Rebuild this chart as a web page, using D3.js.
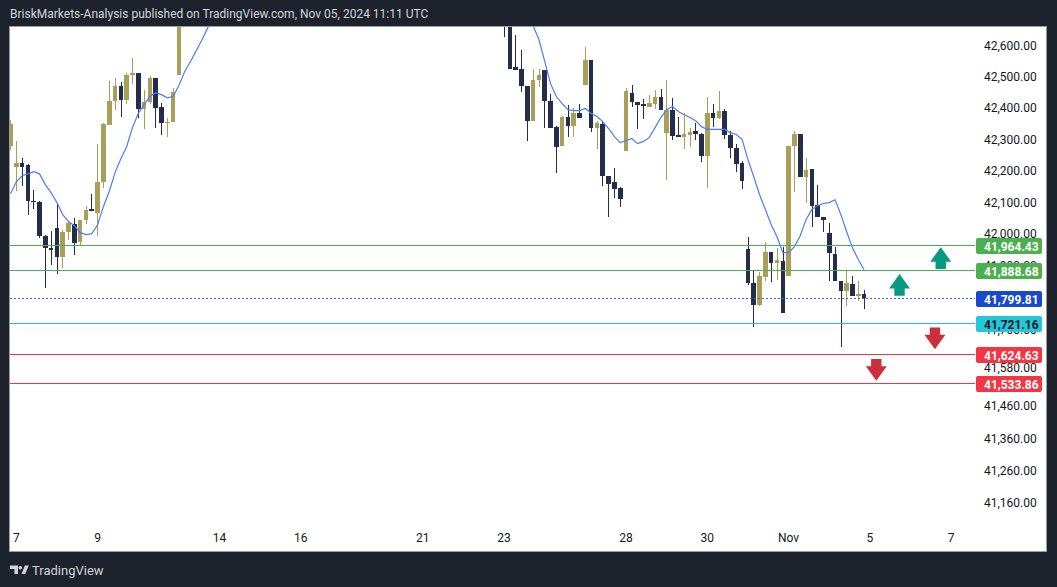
<!DOCTYPE html>
<html>
<head>
<meta charset="utf-8">
<script src="https://cdn.jsdelivr.net/npm/d3@7"></script>
<style>
body { margin: 0; background: #1e222d; }
svg { display: block; }
</style>
</head>
<body>
<script>
// US30 4h candles, last bar of Oct 4 (index 0) to last bar of Nov 4 (index 147)
// bars 30..84 trade above the visible window and are left out

// stretch A: bars 0..29
const startA = 0
const openA  = [42278,42213,42227,42218,42105,42101,41993,41957,42020,41927,42006,42033,41974,42044,42081,42067,42164,42345,42422,42472,42425,42505,42511,42396,42418,42497,42402,42355,42355,42505]
const highA  = [42361,42294,42240,42223,42141,42104,41996,42011,42097,42014,42043,42052,42046,42090,42128,42286,42351,42487,42497,42482,42513,42561,42511,42459,42502,42497,42417,42369,42465,42810]
const lowA   = [42268,42136,42153,42062,42081,41989,41832,41902,41876,41892,41983,41936,41964,42033,42072,41994,42147,42345,42393,42371,42414,42478,42367,42334,42414,42336,42314,42309,42355,42505]
const closeA = [42348,42226,42214,42104,42103,41994,41955,41949,41927,42008,42034,41971,42046,42076,42072,42166,42348,42424,42472,42425,42507,42513,42396,42421,42497,42399,42352,42356,42450,42790]

// stretch B: bars 85..147
const startB = 85
const openB  = [42760,42680,42530,42526,42472,42358,42489,42523,42424,42339,42278,42371,42342,42383,42473,42553,42336,42350,42183,42164,42145,42263,42449,42421,42412,42405,42412,42437,42321,42394,42313,42307,42313,42326,42319,42247,42386,42367,42392,42315,42274,42224,41954,41847,41776,41866,41945,41908,41916,41867,42278,42319,42180,42205,42091,42055,42005,41939,41851,41820,41843,41804,41812]
const highB  = [42790,42700,42635,42584,42472,42526,42526,42523,42446,42342,42374,42409,42400,42412,42594,42553,42358,42358,42183,42208,42148,42463,42475,42421,42428,42443,42457,42462,42491,42433,42371,42384,42336,42353,42320,42437,42414,42456,42396,42326,42286,42233,41992,41885,41882,41977,41945,41958,41961,42280,42326,42319,42242,42205,42156,42055,42036,41961,41851,41886,41867,41854,41823]
const lowB   = [42627,42526,42523,42451,42294,42358,42467,42336,42336,42193,42278,42307,42307,42369,42473,42323,42269,42152,42053,42116,42085,42263,42405,42333,42364,42405,42396,42393,42170,42298,42307,42269,42275,42300,42228,42146,42339,42365,42302,42240,42198,42142,41839,41707,41773,41853,41849,41857,41751,41867,42133,42180,42098,42023,42053,42006,41851,41851,41647,41773,41804,41791,41765]
const closeB = [42680,42526,42523,42470,42358,42491,42507,42422,42336,42275,42371,42342,42384,42369,42552,42336,42352,42183,42158,42142,42110,42454,42418,42409,42409,42415,42437,42393,42393,42310,42307,42317,42323,42318,42247,42386,42367,42392,42313,42272,42221,42167,41846,41776,41869,41945,41908,41920,41751,42280,42319,42180,42204,42088,42053,42044,41940,41851,41820,41845,41804,41812,41799.81]

// moving average (blue), visible parts only
const maStartA = 0
const maA = [42128,42166,42185,42191,42198,42191,42157,42131,42100,42062,42040,42027,42005,41999,42002,42030,42087,42135,42195,42239,42277,42338,42383,42411,42437,42449,42443,42433,42437,42472,42517,42549,42584,42619,42658,42690]
const maStartB = 88
const maB = [42716,42709,42664,42619,42549,42478,42437,42414,42395,42392,42392,42399,42383,42373,42357,42335,42309,42290,42297,42303,42287,42294,42306,42338,42370,42395,42405,42389,42379,42370,42360,42341,42332,42332,42332,42332,42322,42316,42300,42236,42182,42125,42078,42030,41992,41942,41942,41961,41995,42046,42078,42090,42097,42100,42109,42062,42008,41957,41920,41888]

const lastBar = 147
const timeLabels = ["7","9","14","16","21","23","28","30","Nov","5","7"]
const timeIdx    = [1,15,36,50,71,85,106,120,134,148,162]
const priceTicks = [42600,42500,42400,42300,42200,42100,42000,41900,41800,41700,41580,41460,41360,41260,41160]

// drawn levels
const resistLevels = [41964.43, 41888.68]
const pivotLevels  = [41721.16]
const supportLevels = [41624.63, 41533.86]
const lastPrice = 41799.81

// arrows: bar index of centre, price at the tip
const arrowIdx   = [160.2, 153.1, 159.2, 149.1]
const arrowPrice = [41958.8, 41874.6, 41638.3, 41540.2]
const arrowDir   = ["up","up","down","down"]

const W = 1057, H = 587
const plot = {left: 10, right: 975, top: 27, bottom: 552}
const UP = "#a99f58", DOWN = "#242e4a"

const svg = d3.select("body").append("svg").attr("width", W).attr("height", H)
svg.append("rect").attr("width", W).attr("height", H).attr("fill", "#1e222d")

// white chart panel
svg.append("rect")
    .attr("x", 9.5).attr("y", 26.5)
    .attr("width", 1037).attr("height", 525)
    .attr("fill", "#ffffff").attr("stroke", "#9a9da6")

svg.append("text")
    .attr("x", 10).attr("y", 18)
    .attr("font-family", "Roboto, 'Noto Sans', sans-serif")
    .attr("font-size", "12px")
    .attr("fill", "#d1d4dc")
    .text("BriskMarkets-Analysis published on TradingView.com, Nov 05, 2024 11:11 UTC")

const x = d3.scaleLinear().domain([0, lastBar]).range([10.5, 864.1])
const y = d3.scaleLog().domain([41160, 42600]).range([503, 45.5])

svg.append("clipPath").attr("id", "clip")
    .append("rect")
    .attr("x", plot.left).attr("y", plot.top)
    .attr("width", plot.right - plot.left).attr("height", plot.bottom - plot.top)

const g = svg.append("g").attr("clip-path", "url(#clip)")

// build candle table
let candles = []
openA.forEach(function(o, k) {
    candles.push({i: startA + k, o: o, h: highA[k], l: lowA[k], c: closeA[k]})
})
openB.forEach(function(o, k) {
    candles.push({i: startB + k, o: o, h: highB[k], l: lowB[k], c: closeB[k]})
})

const bars = g.selectAll("g.bar")
    .data(candles)
    .enter()
    .append("g")
    .attr("class", "bar")
    .attr("shape-rendering", "crispEdges")

bars.each(function(d) {
    const cx = x(d.i)
    const left = Math.round(cx - 2.3), right = Math.round(cx + 2.3)
    const col = d.c >= d.o ? UP : DOWN
    const wx = Math.floor((left + right) / 2)
    const sel = d3.select(this)
    sel.append("rect")
        .attr("x", wx).attr("width", 1)
        .attr("y", y(d.h)).attr("height", Math.max(1, y(d.l) - y(d.h)))
        .attr("fill", col)
    const top = y(Math.max(d.o, d.c)), bot = y(Math.min(d.o, d.c))
    sel.append("rect")
        .attr("x", left).attr("width", right - left)
        .attr("y", top).attr("height", Math.max(1.5, bot - top))
        .attr("fill", col)
})

// moving average
const maLine = d3.line()
    .x(function(d) { return x(d.i) })
    .y(function(d) { return y(d.v) })

const maSegs = [
    maA.map(function(v, k) { return {i: maStartA + k, v: v} }),
    maB.map(function(v, k) { return {i: maStartB + k, v: v} })
]
g.selectAll("path.ma")
    .data(maSegs)
    .enter()
    .append("path")
    .attr("class", "ma")
    .attr("d", maLine)
    .attr("fill", "none")
    .attr("stroke", "#4a7bff")
    .attr("stroke-width", 1.2)

// horizontal levels
const levels = []
resistLevels.forEach(function(v) { levels.push({v: v, line: "#4caf50", box: "#4caf50", txt: "#ffffff"}) })
pivotLevels.forEach(function(v) { levels.push({v: v, line: "#22c3d6", box: "#26c6da", txt: "#131722"}) })
supportLevels.forEach(function(v) { levels.push({v: v, line: "#f23645", box: "#f23645", txt: "#ffffff"}) })

svg.selectAll("line.level")
    .data(levels)
    .enter()
    .append("line")
    .attr("class", "level")
    .attr("x1", plot.left).attr("x2", plot.right)
    .attr("y1", function(d) { return Math.round(y(d.v)) + 0.5 })
    .attr("y2", function(d) { return Math.round(y(d.v)) + 0.5 })
    .attr("stroke", function(d) { return d.line })
    .attr("stroke-width", 1)

svg.append("line")
    .attr("x1", plot.left).attr("x2", plot.right)
    .attr("y1", Math.round(y(lastPrice)) + 0.5).attr("y2", Math.round(y(lastPrice)) + 0.5)
    .attr("stroke", "#2962ff").attr("stroke-dasharray", "2,2")

// arrows
const arrowPath = function(d, k) {
    const cx = x(arrowIdx[k]), ty = y(d)
    const s = arrowDir[k] === "up" ? 1 : -1
    const hw = 10.5, head = 14.5, sw = 5.2, len = 21.7
    return "M" + cx + "," + ty +
        "L" + (cx + hw) + "," + (ty + s * head) +
        "L" + (cx + sw) + "," + (ty + s * head) +
        "L" + (cx + sw) + "," + (ty + s * len) +
        "L" + (cx - sw) + "," + (ty + s * len) +
        "L" + (cx - sw) + "," + (ty + s * head) +
        "L" + (cx - hw) + "," + (ty + s * head) + "Z"
}
svg.selectAll("path.arrow")
    .data(arrowPrice)
    .enter()
    .append("path")
    .attr("class", "arrow")
    .attr("d", arrowPath)
    .attr("fill", function(d, k) { return arrowDir[k] === "up" ? "#089981" : "#cc2f3c" })

// price axis
const fmt = d3.format(",.2f")
svg.selectAll("text.ptick")
    .data(priceTicks)
    .enter()
    .append("text")
    .attr("class", "ptick")
    .attr("x", 984)
    .attr("y", function(d) { return y(d) + 4 })
    .attr("font-family", "Roboto, sans-serif")
    .attr("font-size", "12px")
    .attr("fill", "#131722")
    .text(function(d) { return fmt(d) })

const tags = levels.concat([{v: lastPrice, box: "#1848cc", txt: "#ffffff"}])
const tag = svg.selectAll("g.tag")
    .data(tags)
    .enter()
    .append("g")
    .attr("class", "tag")
tag.append("rect")
    .attr("x", 976).attr("width", 66)
    .attr("y", function(d) { return Math.round(y(d.v)) - 7 })
    .attr("height", 16)
    .attr("rx", 2)
    .attr("fill", function(d) { return d.box })
tag.append("text")
    .attr("x", 984)
    .attr("y", function(d) { return Math.round(y(d.v)) + 5.5 })
    .attr("font-family", "Roboto, sans-serif")
    .attr("font-size", "12px")
    .attr("font-weight", "bold")
    .attr("fill", function(d) { return d.txt })
    .text(function(d) { return fmt(d.v) })

// time axis
svg.selectAll("text.ttick")
    .data(timeLabels)
    .enter()
    .append("text")
    .attr("class", "ttick")
    .attr("x", function(d, k) { return x(timeIdx[k]) })
    .attr("y", 542)
    .attr("text-anchor", "middle")
    .attr("font-family", "Roboto, sans-serif")
    .attr("font-size", "12px")
    .attr("fill", "#131722")
    .text(function(d) { return d })

// footer logo
const logo = svg.append("g").attr("fill", "#d1d4dc")
logo.append("path").attr("d", "M10,565.5 h8 v8.5 h-3.6 v-5 h-4.4 z")
logo.append("circle").attr("cx", 20.3).attr("cy", 567.7).attr("r", 1.8)
logo.append("path").attr("d", "M21.5,574 l3.4,-8.5 h3.8 l-3.4,8.5 z")
svg.append("text")
    .attr("x", 32).attr("y", 574.5)
    .attr("font-family", "Roboto, sans-serif")
    .attr("font-size", "13px")
    .attr("fill", "#d1d4dc")
    .text("TradingView")
</script>
</body>
</html>
